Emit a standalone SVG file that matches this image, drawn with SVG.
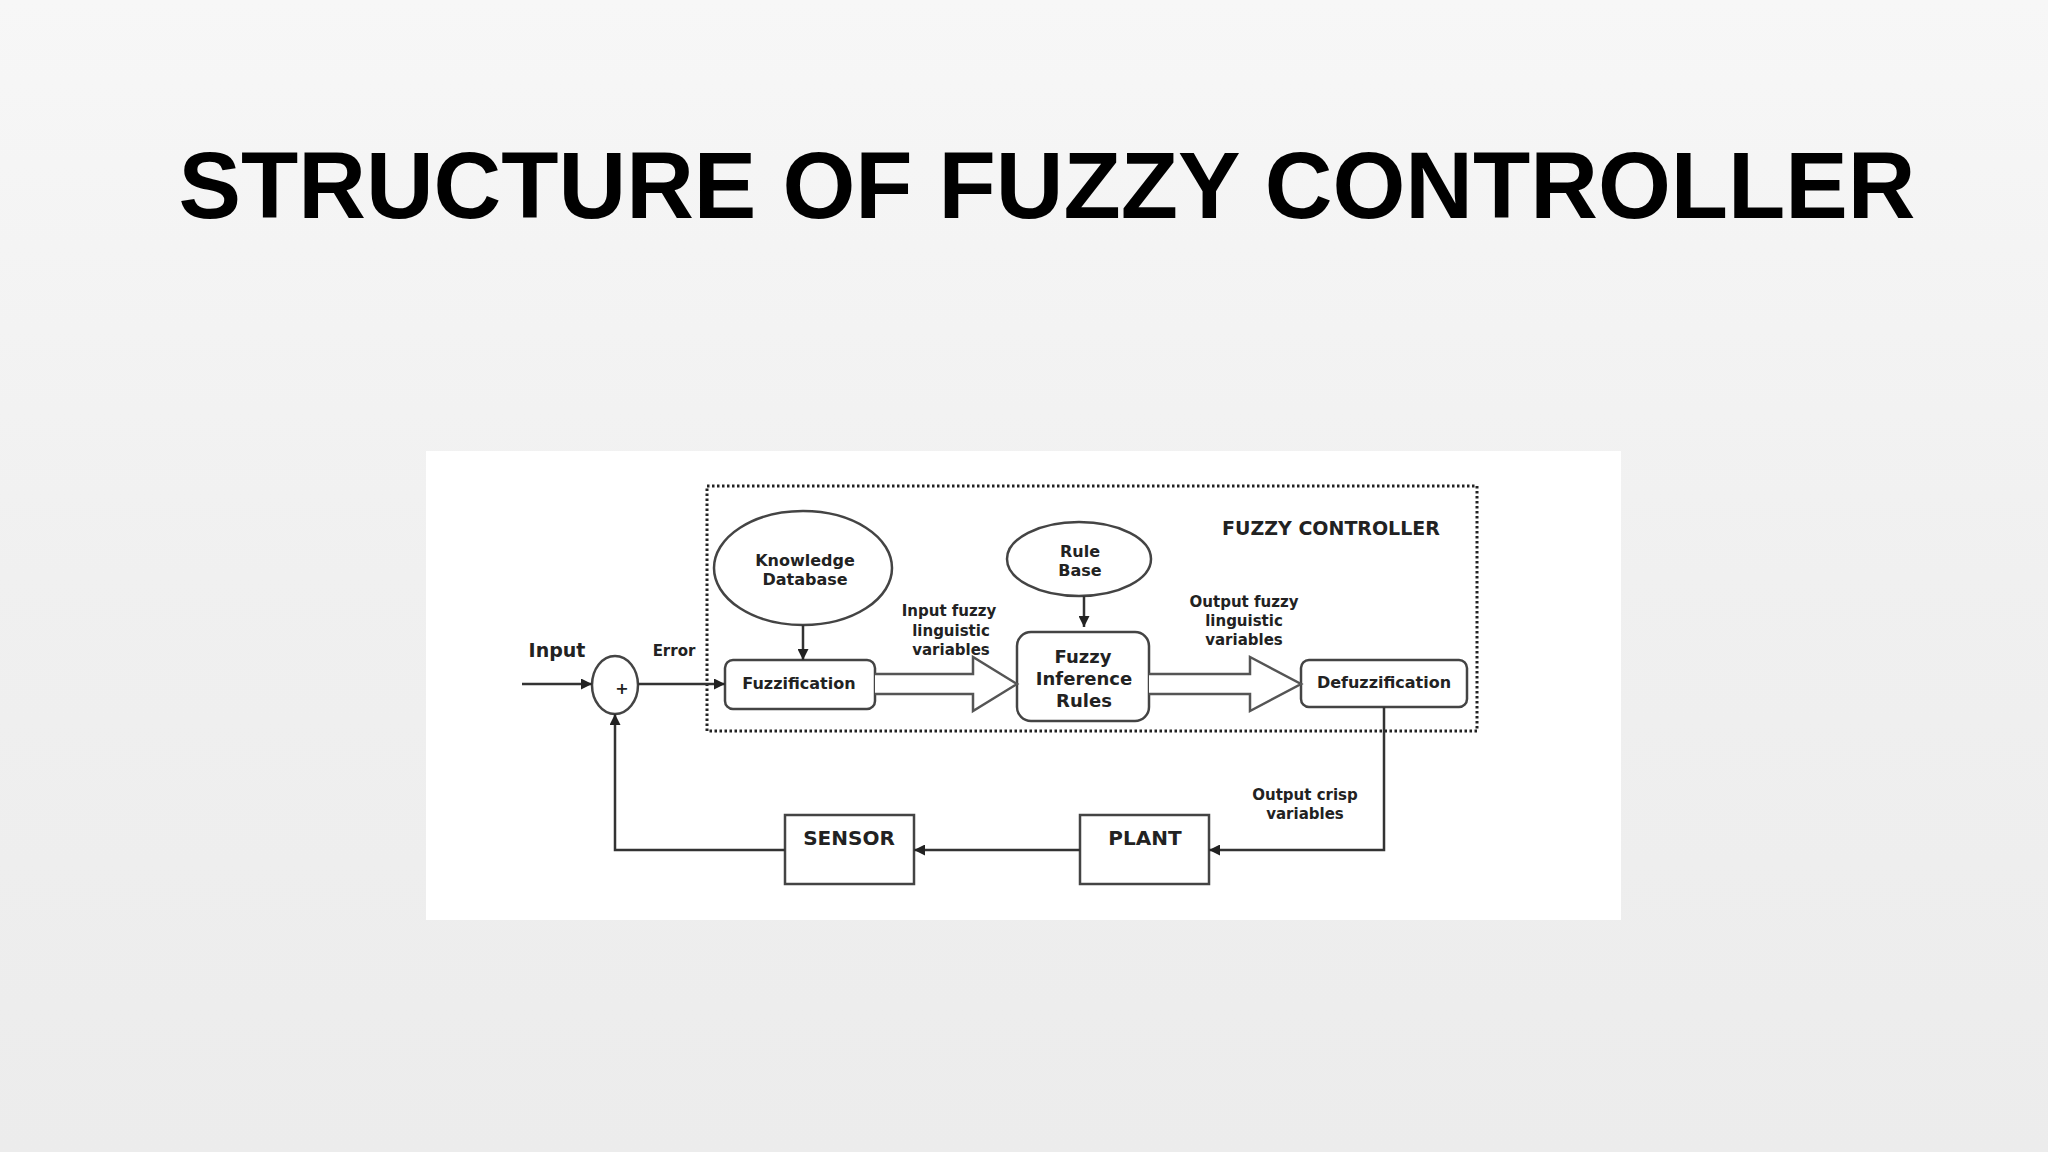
<svg xmlns="http://www.w3.org/2000/svg" width="2048" height="1152" viewBox="0 0 2048 1152">
<defs>
<linearGradient id="bg" x1="0" y1="0" x2="0" y2="1"><stop offset="0" stop-color="#f7f7f7"/><stop offset="0.5" stop-color="#f0f0f0"/><stop offset="1" stop-color="#ececec"/></linearGradient>
<marker id="ah" viewBox="0 0 10 10" refX="10" refY="5" markerWidth="11" markerHeight="11" orient="auto" markerUnits="userSpaceOnUse"><path d="M0,0 L10,5 L0,10 z" fill="#222"/></marker>
</defs>
<style>
.s{fill:#fff;stroke:#444;stroke-width:2.5}
.l{fill:none;stroke:#333;stroke-width:2.5}
.t{font-family:"DejaVu Sans",Verdana,sans-serif;font-weight:bold;fill:#222;text-anchor:middle}
</style>
<rect width="2048" height="1152" fill="url(#bg)"/>
<text x="1047" y="218" font-family="Liberation Sans, Arial, sans-serif" font-weight="bold" font-size="94" text-anchor="middle" textLength="1737" lengthAdjust="spacingAndGlyphs" fill="#000">STRUCTURE OF FUZZY CONTROLLER</text>
<rect x="426" y="451" width="1195" height="469" fill="#fff"/>
<g id="controller-box"><rect x="707" y="486" width="770" height="245" fill="none" stroke="#222" stroke-width="3" stroke-dasharray="2.5,2.5"/><text class="t" x="1331" y="535" font-size="19">FUZZY CONTROLLER</text></g>
<g id="knowledge"><ellipse class="s" cx="803" cy="568" rx="89" ry="57"/><text class="t" x="805" y="566" font-size="16">Knowledge</text><text class="t" x="805" y="585" font-size="16">Database</text></g>
<g id="rulebase"><ellipse class="s" cx="1079" cy="559" rx="72" ry="37"/><text class="t" x="1080" y="557" font-size="16">Rule</text><text class="t" x="1080" y="576" font-size="16">Base</text></g>
<g id="sum"><ellipse class="s" cx="615" cy="685" rx="23" ry="29"/><text class="t" x="622" y="694" font-size="16">+</text></g>
<g id="fuzzification"><rect class="s" x="725" y="660" width="150" height="49" rx="8"/><text class="t" x="799" y="689" font-size="16">Fuzzification</text></g>
<g id="inference"><rect class="s" x="1017" y="632" width="132" height="89" rx="14"/><text class="t" x="1083" y="663" font-size="18">Fuzzy</text><text class="t" x="1084" y="685" font-size="18">Inference</text><text class="t" x="1084" y="707" font-size="18">Rules</text></g>
<g id="defuzzification"><rect class="s" x="1301" y="660" width="166" height="47" rx="8"/><text class="t" x="1384" y="688" font-size="16">Defuzzification</text></g>
<g id="sensor"><rect class="s" x="785" y="815" width="129" height="69"/><text class="t" x="849" y="845" font-size="20">SENSOR</text></g>
<g id="plant"><rect class="s" x="1080" y="815" width="129" height="69"/><text class="t" x="1145" y="845" font-size="20">PLANT</text></g>
<g id="connectors">
<line class="l" x1="522" y1="684" x2="592" y2="684" marker-end="url(#ah)"/>
<line class="l" x1="638" y1="684" x2="725" y2="684" marker-end="url(#ah)"/>
<line class="l" x1="803" y1="625" x2="803" y2="660" marker-end="url(#ah)"/>
<line class="l" x1="1084" y1="596" x2="1084" y2="627" marker-end="url(#ah)"/>
<path d="M875,674 L973,674 L973,657 L1017,684 L973,711 L973,694 L875,694" fill="#fff" stroke="#555" stroke-width="2.5"/>
<path d="M1149,674 L1250,674 L1250,657 L1301,684 L1250,711 L1250,694 L1149,694" fill="#fff" stroke="#555" stroke-width="2.5"/>
<polyline class="l" points="1384,707 1384,850 1209,850" marker-end="url(#ah)"/>
<line class="l" x1="1080" y1="850" x2="914" y2="850" marker-end="url(#ah)"/>
<polyline class="l" points="785,850 615,850 615,714" marker-end="url(#ah)"/>
</g>
<g id="labels">
<text class="t" x="557" y="657" font-size="19">Input</text>
<text class="t" x="674" y="656" font-size="15">Error</text>
<text class="t" x="949" y="616" font-size="15">Input fuzzy</text>
<text class="t" x="951" y="636" font-size="15">linguistic</text>
<text class="t" x="951" y="655" font-size="15">variables</text>
<text class="t" x="1244" y="607" font-size="15">Output fuzzy</text>
<text class="t" x="1244" y="626" font-size="15">linguistic</text>
<text class="t" x="1244" y="645" font-size="15">variables</text>
<text class="t" x="1305" y="800" font-size="15">Output crisp</text>
<text class="t" x="1305" y="819" font-size="15">variables</text>
</g>
</svg>
